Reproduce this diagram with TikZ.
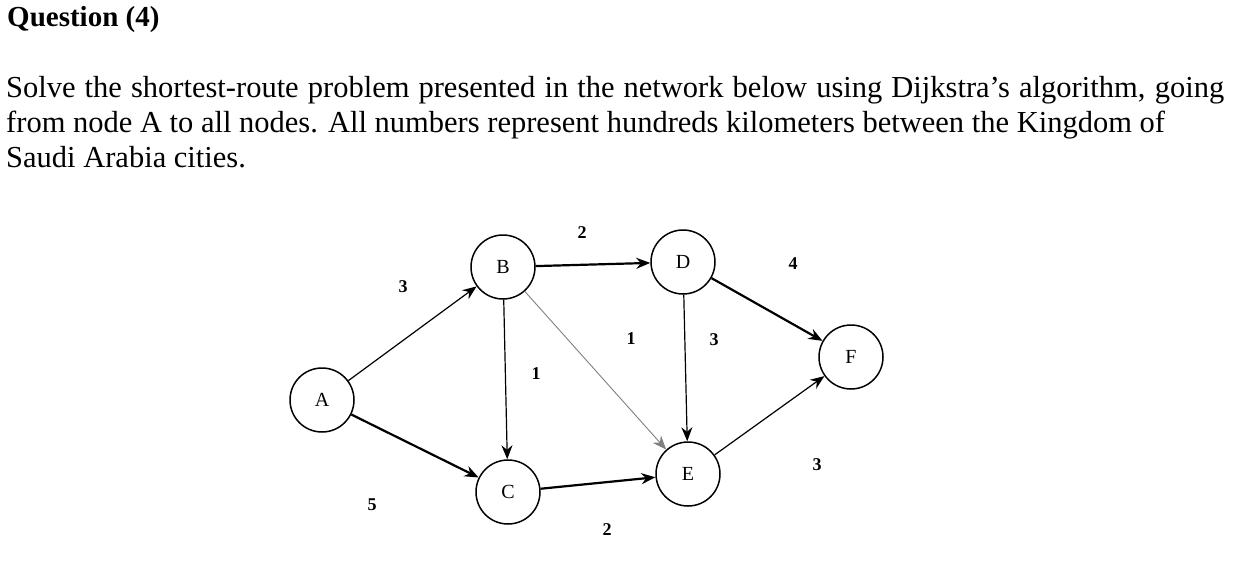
\documentclass[tikz,border=0pt]{standalone}
\usepackage{fontspec}
\setmainfont{Liberation Serif}
\usetikzlibrary{arrows.meta}
\begin{document}
\begin{tikzpicture}[x=1pt,y=-1pt,
  city/.style={circle,draw,line width=1.5pt,minimum size=64pt,inner sep=0pt,font=\fontsize{20}{22}\selectfont},
  lbl/.style={font=\bfseries\fontsize{18}{20}\selectfont},
  arr/.style={-{Stealth[length=14pt,width=11pt]},line width=1.2pt},
  thk/.style={-{Stealth[length=14pt,width=11pt]},line width=2.2pt}]
\useasboundingbox (0,0) rectangle (1242,567);
\node[anchor=base west,inner sep=0pt,font=\bfseries\fontsize{29}{32}\selectfont] (q) at (7,27) {Question (4)};
\node[anchor=north west,inner sep=0pt,text width=1218pt,align=justify,font=\fontsize{30.5}{35}\selectfont] (t) at (6,76)
 {Solve the shortest-route problem presented in the network below using Dijkstra’s algorithm, going from node A to all nodes. All numbers represent hundreds kilometers between the Kingdom of\\ Saudi Arabia cities.};
\node[city] (A) at (322,400) {A};
\node[city] (B) at (503,267) {B};
\node[city] (C) at (508,492) {C};
\node[city] (D) at (683,262) {D};
\node[city] (E) at (688,474) {E};
\node[city] (F) at (851,357) {F};
\draw[arr] (A) -- (B);
\draw[thk] (A) -- (C);
\draw[thk] (B) -- (D);
\draw[arr] (B) -- (C);
\draw[arr,gray,line width=0.9pt] (B) -- (E);
\draw[arr] (D) -- (E);
\draw[thk] (D) -- (F);
\draw[thk] (C) -- (E);
\draw[arr] (E) -- (F);
\node[lbl] (l1) at (403,287) {3};
\node[lbl] (l2) at (372,505) {5};
\node[lbl] (l3) at (582,233) {2};
\node[lbl] (l4) at (536,374) {1};
\node[lbl] (l5) at (631,339) {1};
\node[lbl] (l6) at (714,340) {3};
\node[lbl] (l7) at (793,264) {4};
\node[lbl] (l8) at (607,530) {2};
\node[lbl] (l9) at (817,465) {3};
\end{tikzpicture}
\end{document}
